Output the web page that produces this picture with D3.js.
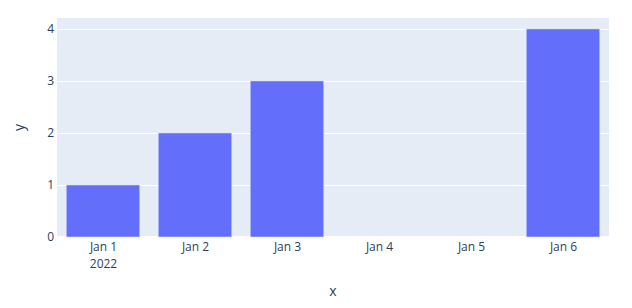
<!DOCTYPE html>
<html>
<head>
<meta charset="utf-8">
<script src="https://cdn.jsdelivr.net/npm/d3@7"></script>
<style>
  body { margin: 0; background: #fff; }
  text { font-family: "Open Sans", sans-serif; fill: #2a3f5f; }
</style>
</head>
<body>
<div id="chart"></div>
<script>
// data
var dates = ["2022-01-01", "2022-01-02", "2022-01-03", "2022-01-06"];
var values = [1, 2, 3, 4];
var yTicks = [0, 1, 2, 3, 4];
var xTicks = ["2022-01-01", "2022-01-02", "2022-01-03", "2022-01-04", "2022-01-05", "2022-01-06"];

var W = 632, H = 308;
var margin = {top: 18, right: 23, bottom: 71, left: 57},
    width = W - margin.left - margin.right,
    height = H - margin.top - margin.bottom;

var parse = d3.utcParse("%Y-%m-%d");
var day = 864e5;

var svg = d3.select("#chart")
  .append("svg")
    .attr("width", W)
    .attr("height", H);

var g = svg.append("g")
    .attr("transform", "translate(" + margin.left + "," + margin.top + ")");

// background
g.append("rect")
    .attr("width", width)
    .attr("height", height)
    .style("fill", "#E5ECF6");

var x0 = parse(dates[0]), x1 = parse(dates[dates.length - 1]);
var x = d3.scaleUtc()
    .domain([new Date(+x0 - day / 2), new Date(+x1 + day / 2)])
    .range([0, width]);

var y = d3.scaleLinear()
    .domain([0, 4 * 1.05263])
    .range([height, 0]);

// y grid + labels
var yAxis = g.append("g")
    .call(d3.axisLeft(y).tickValues(yTicks).tickSize(-width).tickFormat(d3.format("d")));
yAxis.select(".domain").remove();
yAxis.selectAll(".tick line").attr("stroke", "#fff").attr("stroke-width", 1);
yAxis.selectAll(".tick text")
    .attr("x", -3)
    .style("font-size", "12px")
    .style("fill", "#2a3f5f");

// zero line
g.append("line")
    .attr("x1", 0).attr("x2", width)
    .attr("y1", y(0)).attr("y2", y(0))
    .attr("stroke", "#fff").attr("stroke-width", 2);

// bars
var bw = day * 0.8;
g.append("g")
  .selectAll("rect")
  .data(dates.map(function (d, i) { return {date: parse(d), v: values[i]}; }))
  .enter()
  .append("rect")
    .attr("x", function (d) { return x(new Date(+d.date - bw / 2)); })
    .attr("width", function (d) { return x(new Date(+d.date + bw / 2)) - x(new Date(+d.date - bw / 2)); })
    .attr("y", function (d) { return y(d.v); })
    .attr("height", function (d) { return y(0) - y(d.v); })
    .style("fill", "#636efa")
    .style("stroke", "#E5ECF6")
    .style("stroke-width", 0.5);

// x axis labels
var fmt = d3.utcFormat("%b %-d");
var xAxis = g.append("g")
    .attr("transform", "translate(0," + height + ")")
    .call(d3.axisBottom(x).tickValues(xTicks.map(parse)).tickSize(0).tickFormat(""));
xAxis.select(".domain").remove();
xAxis.selectAll(".tick").each(function (d, i) {
  var t = d3.select(this).append("text")
      .attr("text-anchor", "middle")
      .attr("y", 14)
      .style("font-size", "12px");
  t.append("tspan").attr("x", 0).text(fmt(d));
  if (i === 0) t.append("tspan").attr("x", 0).attr("dy", 17).text(d3.utcFormat("%Y")(d));
});

// axis titles
svg.append("text")
    .attr("text-anchor", "middle")
    .attr("x", margin.left + width / 2)
    .attr("y", 296)
    .style("font-size", "14px")
    .text("x");

svg.append("text")
    .attr("text-anchor", "middle")
    .attr("transform", "translate(24," + (margin.top + height / 2) + ") rotate(-90)")
    .style("font-size", "14px")
    .text("y");
</script>
</body>
</html>
